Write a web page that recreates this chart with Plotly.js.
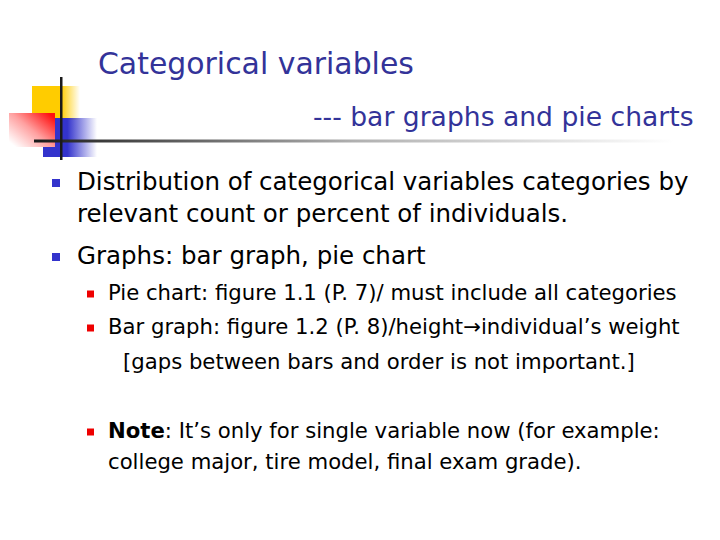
<!DOCTYPE html>
<html>
<head>
<meta charset="utf-8">
<script src="https://cdn.plot.ly/plotly-3.0.1.min.js"></script>
<style>
	html, body { margin: 0; padding: 0; background: #fff; }
	#slide { width: 720px; height: 540px; }
</style>
</head>
<body>
<div id="slide"></div>
<script>
// slide text
var titleText = 'Categorical variables';
var subtitleText = '--- bar graphs and pie charts';
var lineTexts = [
	'Distribution of categorical variables categories by',
	'relevant count or percent of individuals.',
	'Graphs: bar graph, pie chart',
	'Pie chart: figure 1.1 (P. 7)/ must include all categories',
	'Bar graph: figure 1.2 (P. 8)/height\u2192individual\u2019s weight',
	'[gaps between bars and order is not important.]',
	'<b>Note</b>: It\u2019s only for single variable now (for example:',
	'college major, tire model, final exam grade).'
];
var lineLevels = [1, 1, 1, 2, 2, 2, 2, 2];
var lineBullets = [true, false, true, true, true, false, true, false];

// layout of the slide (pixels)
var lineY = [181, 213, 255, 292, 326, 361, 430, 461];
var textX = {1: 75, 2: 106};
var bulletX = {1: 56, 2: 90.5};
var bulletSize = {1: 8, 2: 7};
var bulletColor = {1: '#3333cc', 2: '#ee0000'};
var fontSize = {1: 24.5, 2: 21.2};
var font = 'DejaVu Sans, Verdana, sans-serif';

var annotations = [];
var shapes = [];

annotations.push({
	x: 96, y: 63, xref: 'x', yref: 'y', xanchor: 'left', yanchor: 'middle',
	text: titleText, showarrow: false,
	font: {family: font, size: 29.9, color: '#333399'}
});
annotations.push({
	x: 696, y: 116, xref: 'x', yref: 'y', xanchor: 'right', yanchor: 'middle',
	text: subtitleText, showarrow: false,
	font: {family: font, size: 26.6, color: '#333399'}
});

for (var i = 0; i < lineTexts.length; i++) {
	var lvl = lineLevels[i];
	var x = textX[lvl];
	if (i == 5) x = 121; // the bracket line sits further in
	annotations.push({
		x: x, y: lineY[i], xref: 'x', yref: 'y', xanchor: 'left', yanchor: 'middle',
		text: lineTexts[i], showarrow: false,
		font: {family: font, size: fontSize[lvl], color: '#000000'}
	});
	if (lineBullets[i]) {
		var s = bulletSize[lvl] / 2;
		var cy = lineY[i] + 2;
		shapes.push({
			type: 'rect', xref: 'x', yref: 'y',
			x0: bulletX[lvl] - s, x1: bulletX[lvl] + s, y0: cy - s, y1: cy + s,
			fillcolor: bulletColor[lvl], line: {width: 0}
		});
	}
}

// decoration: logo blocks and the rule under the title
var deco = "<svg xmlns='http://www.w3.org/2000/svg' width='720' height='540' viewBox='0 0 720 540'>" +
	"<defs>" +
	"<linearGradient id='yl' x1='0' y1='0' x2='1' y2='0'><stop offset='0' stop-color='#ffcc00'/><stop offset='0.6' stop-color='#ffcc00'/><stop offset='1' stop-color='#ffcc00' stop-opacity='0'/></linearGradient>" +
	"<linearGradient id='bl' x1='0' y1='0' x2='1' y2='0'><stop offset='0' stop-color='#3333cc'/><stop offset='0.45' stop-color='#3333cc'/><stop offset='1' stop-color='#3333cc' stop-opacity='0'/></linearGradient>" +
	"<linearGradient id='rd' x1='0.05' y1='0.9' x2='0.95' y2='0.1'><stop offset='0' stop-color='#ffffff'/><stop offset='0.5' stop-color='#ffa0a0'/><stop offset='1' stop-color='#ff1010'/></linearGradient>" +
	"<linearGradient id='ln' x1='0' y1='0' x2='1' y2='0'><stop offset='0' stop-color='#1a1a1a'/><stop offset='0.08' stop-color='#333333'/><stop offset='0.5' stop-color='#b0b0b0'/><stop offset='1' stop-color='#ffffff'/></linearGradient>" +
	"</defs>" +
	"<rect x='32' y='86' width='48' height='34' fill='url(#yl)'/>" +
	"<rect x='43' y='118' width='54' height='39' fill='url(#bl)'/>" +
	"<rect x='9' y='113' width='46' height='34' fill='url(#rd)'/>" +
	"<rect x='34' y='139.5' width='640' height='3' fill='url(#ln)'/>" +
	"<rect x='60' y='77' width='2.5' height='83' fill='#1a1a1a'/>" +
	"</svg>";

var layout = {
	width: 720,
	height: 540,
	margin: {l: 0, r: 0, t: 0, b: 0},
	paper_bgcolor: '#ffffff',
	plot_bgcolor: '#ffffff',
	showlegend: false,
	xaxis: {range: [0, 720], visible: false, fixedrange: true},
	yaxis: {range: [540, 0], visible: false, fixedrange: true},
	images: [{
		source: 'data:image/svg+xml;charset=utf-8,' + encodeURIComponent(deco),
		xref: 'paper', yref: 'paper', x: 0, y: 1, sizex: 1, sizey: 1,
		xanchor: 'left', yanchor: 'top', sizing: 'stretch', layer: 'below'
	}],
	shapes: shapes,
	annotations: annotations
};

Plotly.newPlot('slide', [], layout, {staticPlot: true, displayModeBar: false});
</script>
</body>
</html>
